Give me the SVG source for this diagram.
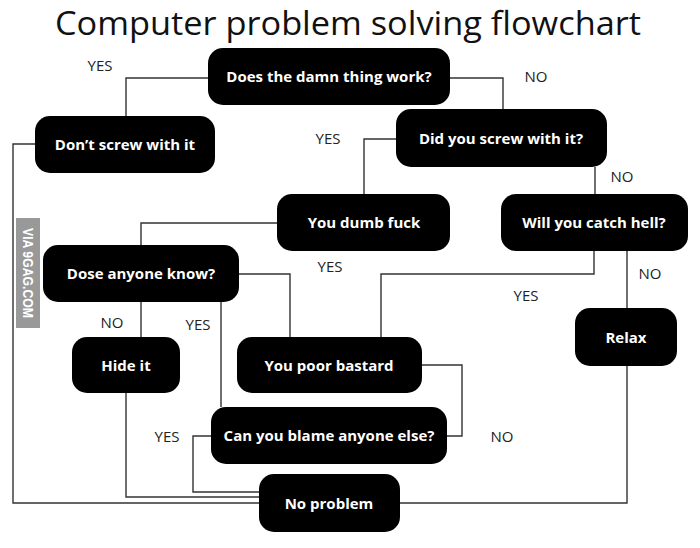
<svg xmlns="http://www.w3.org/2000/svg" width="700" height="548" viewBox="0 0 700 548">
<style>
.node rect{fill:#000;}
.node text{fill:#fff;font-family:"Open Sans","Liberation Sans",sans-serif;font-weight:bold;font-size:15px;text-anchor:middle;}
.lbl{fill:#222;font-family:"Open Sans","Liberation Sans",sans-serif;font-size:15px;text-anchor:middle;}
.conn path{fill:none;stroke:#333;stroke-width:1.4;}
.title{fill:#111;font-family:"Open Sans","Liberation Sans",sans-serif;font-size:33px;text-anchor:middle;}
</style>
<rect width="700" height="548" fill="#fff"/>
<text class="title" x="348" y="35" textLength="586" lengthAdjust="spacingAndGlyphs">Computer problem solving flowchart</text>
<g class="conn">
<path d="M208,78 H126 V116"/>
<path d="M450,78 H503 V109"/>
<path d="M396,139 H364 V194"/>
<path d="M595,167 V194"/>
<path d="M35,144 H13 V503 H259"/>
<path d="M277,223 H141 V245"/>
<path d="M239,274 H290 V337"/>
<path d="M141,302 V337"/>
<path d="M221,302 V407"/>
<path d="M594,251 V274 H381 V337"/>
<path d="M627,251 V308"/>
<path d="M627,366 V503 H400"/>
<path d="M422,365 H462 V436 H447"/>
<path d="M211,436 H193 V492 H259"/>
<path d="M126,393 V497 H259"/>
</g>
<g id="watermark">
<rect x="16" y="218" width="24" height="110" fill="#999"/>
<text x="28" y="273" transform="rotate(90 28 273)" fill="#fff" font-family="'Liberation Sans Narrow','Liberation Sans',sans-serif" font-weight="bold" font-size="15" text-anchor="middle" dominant-baseline="central" textLength="90" lengthAdjust="spacingAndGlyphs">VIA 9GAG.COM</text>
</g>
<g id="n1" class="node"><rect x="208" y="48" width="242" height="57" rx="15"/><text x="329" y="82">Does the damn thing work?</text></g>
<g id="n2" class="node"><rect x="35" y="116" width="180" height="57" rx="15"/><text x="125" y="150">Don’t screw with it</text></g>
<g id="n3" class="node"><rect x="396" y="109" width="211" height="58" rx="15"/><text x="501" y="144">Did you screw with it?</text></g>
<g id="n4" class="node"><rect x="277" y="194" width="173" height="57" rx="15"/><text x="364" y="228">You dumb fuck</text></g>
<g id="n5" class="node"><rect x="501" y="194" width="187" height="57" rx="15"/><text x="594" y="228">Will you catch hell?</text></g>
<g id="n6" class="node"><rect x="43" y="245" width="196" height="57" rx="15"/><text x="141" y="279">Dose anyone know?</text></g>
<g id="n7" class="node"><rect x="72" y="337" width="108" height="56" rx="15"/><text x="126" y="371">Hide it</text></g>
<g id="n8" class="node"><rect x="237" y="337" width="185" height="56" rx="15"/><text x="329" y="371">You poor bastard</text></g>
<g id="n9" class="node"><rect x="575" y="308" width="102" height="58" rx="15"/><text x="626" y="343">Relax</text></g>
<g id="n10" class="node"><rect x="211" y="407" width="236" height="57" rx="15"/><text x="329" y="441">Can you blame anyone else?</text></g>
<g id="n11" class="node"><rect x="259" y="474" width="141" height="58" rx="15"/><text x="329" y="509">No problem</text></g>
<g id="labels">
<text class="lbl" x="100" y="71">YES</text>
<text class="lbl" x="536" y="82">NO</text>
<text class="lbl" x="328" y="144">YES</text>
<text class="lbl" x="622" y="182">NO</text>
<text class="lbl" x="330" y="272">YES</text>
<text class="lbl" x="650" y="279">NO</text>
<text class="lbl" x="526" y="301">YES</text>
<text class="lbl" x="112" y="328">NO</text>
<text class="lbl" x="198" y="330">YES</text>
<text class="lbl" x="167" y="442">YES</text>
<text class="lbl" x="502" y="442">NO</text>
</g>
</svg>
